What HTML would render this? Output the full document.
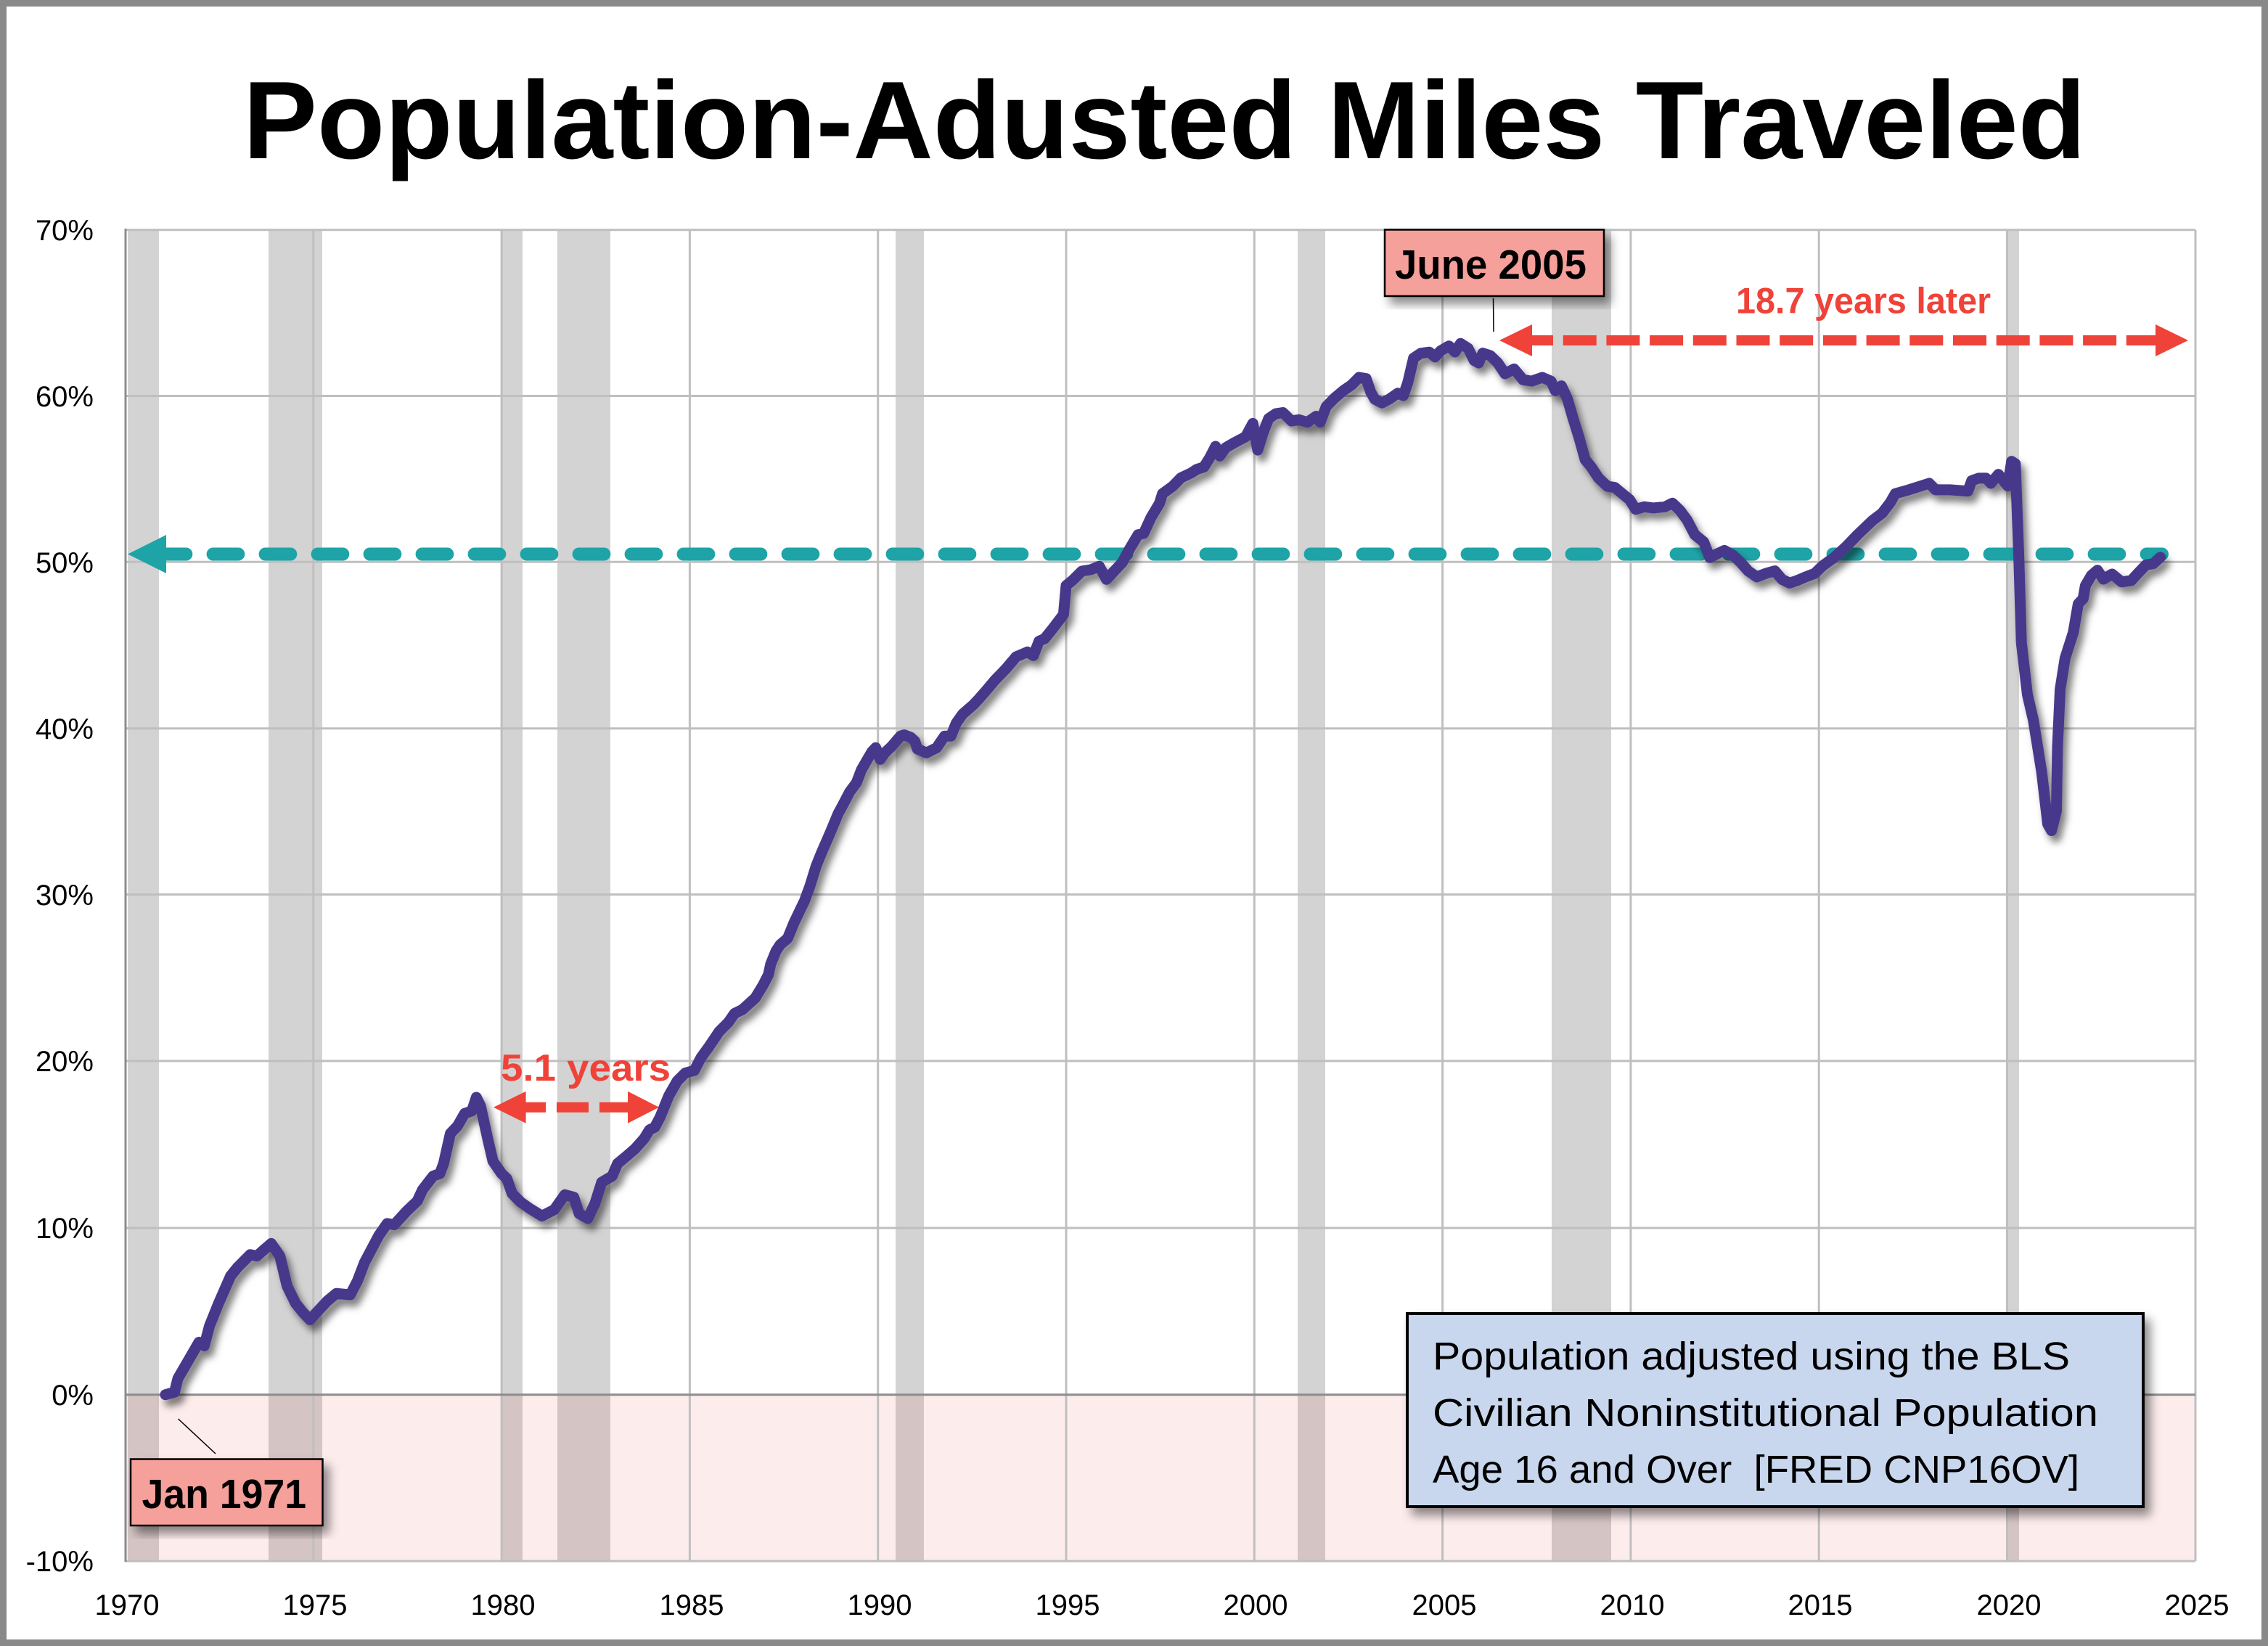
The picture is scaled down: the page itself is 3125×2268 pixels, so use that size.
<!DOCTYPE html>
<html>
<head>
<meta charset="utf-8">
<style>
html,body{margin:0;padding:0;background:#fff;}
svg{display:block;}
text{font-family:"Liberation Sans",Arial,sans-serif;}
</style>
</head>
<body>
<svg width="3125" height="2268" viewBox="0 0 3125 2268" xmlns="http://www.w3.org/2000/svg">
<defs>
<filter id="sh" x="-5%" y="-5%" width="110%" height="110%">
<feDropShadow dx="6" dy="9" stdDeviation="5" flood-color="#000" flood-opacity="0.5"/>
</filter>
<filter id="bsh" x="-10%" y="-10%" width="125%" height="130%">
<feDropShadow dx="8" dy="10" stdDeviation="7" flood-color="#000" flood-opacity="0.45"/>
</filter>
</defs>
<rect x="0" y="0" width="3125" height="2268" fill="#fff"/>

<!-- title -->
<text x="1604.5" y="218" text-anchor="middle" font-size="152" font-weight="bold" textLength="2539" lengthAdjust="spacingAndGlyphs" fill="#000">Population-Adusted Miles Traveled</text>

<!-- recession bands -->
<g fill="#d3d3d3">
<rect x="176" y="316.7" width="43" height="1834.3"/>
<rect x="370" y="316.7" width="74" height="1834.3"/>
<rect x="691" y="316.7" width="29" height="1834.3"/>
<rect x="768" y="316.7" width="73" height="1834.3"/>
<rect x="1234" y="316.7" width="39" height="1834.3"/>
<rect x="1788" y="316.7" width="38" height="1834.3"/>
<rect x="2138" y="316.7" width="82" height="1834.3"/>
<rect x="2766" y="316.7" width="16" height="1834.3"/>
</g>
<!-- pink zone -->
<rect x="172.5" y="1921.7" width="2852.5" height="229.3" fill="rgb(240,70,70)" fill-opacity="0.1"/>

<!-- gridlines -->
<g stroke="#bfbfbf" stroke-width="3">
<line x1="172.5" y1="316.7" x2="3025" y2="316.7"/>
<line x1="172.5" y1="545.5" x2="3025" y2="545.5"/>
<line x1="172.5" y1="774.3" x2="3025" y2="774.3"/>
<line x1="172.5" y1="1003.7" x2="3025" y2="1003.7"/>
<line x1="172.5" y1="1232.5" x2="3025" y2="1232.5"/>
<line x1="172.5" y1="1461.9" x2="3025" y2="1461.9"/>
<line x1="172.5" y1="1692" x2="3025" y2="1692"/>
<line x1="172.5" y1="2151" x2="3025" y2="2151"/>
<line x1="431.8" y1="316.7" x2="431.8" y2="2151"/>
<line x1="691.1" y1="316.7" x2="691.1" y2="2151"/>
<line x1="950.4" y1="316.7" x2="950.4" y2="2151"/>
<line x1="1209.7" y1="316.7" x2="1209.7" y2="2151"/>
<line x1="1469" y1="316.7" x2="1469" y2="2151"/>
<line x1="1728.3" y1="316.7" x2="1728.3" y2="2151"/>
<line x1="1987.6" y1="316.7" x2="1987.6" y2="2151"/>
<line x1="2246.9" y1="316.7" x2="2246.9" y2="2151"/>
<line x1="2506.2" y1="316.7" x2="2506.2" y2="2151"/>
<line x1="2765.5" y1="316.7" x2="2765.5" y2="2151"/>
<line x1="3025" y1="316.7" x2="3025" y2="2151"/>
</g>
<line x1="172.5" y1="1921.7" x2="3025" y2="1921.7" stroke="#8c8c8c" stroke-width="3"/>
<line x1="173" y1="315" x2="173" y2="2152" stroke="#8c8c8c" stroke-width="3"/>

<!-- y labels -->
<g font-size="40" text-anchor="end" fill="#000">
<text x="129" y="331">70%</text>
<text x="129" y="560">60%</text>
<text x="129" y="789">50%</text>
<text x="129" y="1018">40%</text>
<text x="129" y="1247">30%</text>
<text x="129" y="1476">20%</text>
<text x="129" y="1706">10%</text>
<text x="129" y="1936">0%</text>
<text x="129" y="2165">-10%</text>
</g>
<!-- x labels -->
<g font-size="40" text-anchor="middle" fill="#000">
<text x="175" y="2225">1970</text>
<text x="434" y="2225">1975</text>
<text x="693" y="2225">1980</text>
<text x="953" y="2225">1985</text>
<text x="1212" y="2225">1990</text>
<text x="1471" y="2225">1995</text>
<text x="1730" y="2225">2000</text>
<text x="1990" y="2225">2005</text>
<text x="2249" y="2225">2010</text>
<text x="2508" y="2225">2015</text>
<text x="2768" y="2225">2020</text>
<text x="3027" y="2225">2025</text>
</g>

<!-- teal dashed arrow -->
<line x1="221.6" y1="763.5" x2="2979" y2="763.5" stroke="#1ea4a7" stroke-width="18" stroke-linecap="round" stroke-dasharray="34.7 37.3"/>
<polygon points="176,763.5 229,737 229,790" fill="#1ea4a7"/>

<!-- series -->
<g filter="url(#sh)">
<g transform="translate(172.5,1921.7) scale(51.86,-22.94)">
<polyline fill="none" stroke="#46378c" stroke-width="15" stroke-linejoin="round" stroke-linecap="round" vector-effect="non-scaling-stroke" points="1.07,0 1.31,0.15 1.40,0.97 1.96,3.15 2.10,2.93 2.24,4.13 2.48,5.48 2.80,7.13 2.99,7.66 3.32,8.41 3.50,8.33 3.69,8.71 3.88,9.08 4.11,8.33 4.30,6.53 4.53,5.48 4.72,4.95 4.91,4.50 5.09,4.95 5.37,5.63 5.61,6.08 5.98,6.00 6.17,6.83 6.36,7.95 6.73,9.53 6.96,10.28 7.15,10.21 7.48,11.03 7.76,11.63 7.90,12.31 8.18,13.13 8.36,13.28 8.46,13.88 8.64,15.69 8.83,16.14 9.02,16.89 9.21,17.04 9.33,17.86 9.44,17.34 9.63,15.39 9.77,14.03 10.00,13.28 10.14,12.98 10.28,12.08 10.51,11.56 10.75,11.18 11.07,10.73 11.40,11.11 11.68,12.01 11.92,11.86 12.06,10.88 12.29,10.58 12.48,11.48 12.66,12.76 12.94,13.13 13.08,13.88 13.32,14.33 13.55,14.78 13.79,15.39 13.93,15.91 14.07,16.06 14.21,16.66 14.44,17.94 14.67,18.85 14.88,19.32 15.12,19.47 15.30,20.25 15.50,20.87 15.78,21.81 16.02,22.35 16.19,22.90 16.40,23.13 16.74,23.83 16.95,24.61 17.09,25.23 17.15,25.86 17.29,26.64 17.40,27.02 17.60,27.41 17.77,28.35 18.05,29.67 18.19,30.53 18.36,31.77 18.50,32.55 18.74,33.80 18.94,34.89 19.05,35.35 19.25,36.21 19.43,36.76 19.56,37.53 19.70,38.08 19.84,38.62 19.94,38.86 20.06,38.16 20.18,38.55 20.36,38.93 20.60,39.56 20.70,39.63 20.87,39.48 20.98,39.25 21.05,38.78 21.29,38.55 21.56,38.86 21.77,39.56 21.94,39.56 22.08,40.34 22.25,40.88 22.53,41.43 22.66,41.74 22.87,42.28 23.10,42.9 23.40,43.6 23.67,44.32 23.97,44.61 24.13,44.39 24.28,45.26 24.43,45.41 24.66,46.06 24.93,46.86 25.00,48.60 25.16,48.89 25.42,49.47 25.65,49.55 25.88,49.76 26.07,48.97 26.22,49.33 26.49,49.98 26.68,50.78 26.91,51.65 27.06,51.73 27.25,52.67 27.48,53.54 27.56,54.12 27.83,54.56 28.05,55.07 28.32,55.36 28.47,55.58 28.66,55.72 28.82,56.30 28.97,56.96 29.08,56.38 29.24,56.88 29.46,57.17 29.77,57.54 29.96,58.34 30.09,56.74 30.23,57.76 30.38,58.63 30.57,58.92 30.76,58.99 30.99,58.48 31.18,58.56 31.41,58.41 31.64,58.77 31.75,58.41 31.91,59.35 32.13,59.86 32.36,60.30 32.59,60.66 32.78,61.10 32.97,61.03 33.09,60.23 33.20,59.79 33.39,59.57 33.58,59.79 33.81,60.15 33.96,60.01 34.08,60.81 34.23,62.26 34.42,62.55 34.65,62.62 34.80,62.33 34.95,62.70 35.17,62.99 35.33,62.63 35.48,63.14 35.68,62.85 35.84,62.12 35.96,61.97 36.07,62.56 36.27,62.41 36.47,61.97 36.66,61.32 36.90,61.61 37.14,60.96 37.37,60.88 37.65,61.10 37.88,60.88 38.00,60.30 38.16,60.59 38.32,59.80 38.47,58.63 38.63,57.47 38.79,56.16 38.95,55.73 39.14,55.07 39.38,54.56 39.58,54.49 39.77,54.13 39.97,53.76 40.13,53.18 40.36,53.33 40.60,53.26 40.91,53.33 41.11,53.55 41.31,53.11 41.50,52.53 41.70,51.66 41.94,51.22 42.10,50.28 42.29,50.50 42.49,50.71 42.72,50.42 42.92,49.99 43.12,49.48 43.35,49.12 43.59,49.33 43.83,49.48 44.02,48.97 44.22,48.75 44.42,48.90 44.65,49.12 44.89,49.33 45.09,49.77 45.40,50.28 45.72,50.93 46.03,51.66 46.42,52.5 46.68,52.95 46.90,53.6 47.03,54.12 47.39,54.35 47.71,54.58 47.93,54.74 48.10,54.35 48.48,54.35 48.96,54.27 49.06,54.90 49.25,55.05 49.44,55.05 49.57,54.74 49.77,55.28 49.93,54.82 50.02,54.58 50.12,56.06 50.22,55.91 50.31,50.46 50.38,45.17 50.54,42.05 50.70,40.49 50.92,37.38 51.08,34.27 51.18,33.88 51.31,35.05 51.34,38.94 51.41,42.36 51.54,44.23 51.76,45.79 51.89,47.50 52.02,47.81 52.08,48.59 52.24,49.21 52.40,49.52 52.56,48.98 52.79,49.29 53.04,48.82 53.30,48.90 53.49,49.37 53.69,49.84 53.88,49.91 54.07,50.30"/>
</g>
</g>

<!-- red arrow 18.7 years -->
<line x1="2094" y1="469" x2="2970" y2="469" stroke="#ef4238" stroke-width="14" stroke-dasharray="46 13.7"/>
<polygon points="2066,469 2111,447 2111,491" fill="#ef4238"/>
<polygon points="3015,469 2970,447 2970,491" fill="#ef4238"/>
<text x="2392" y="431.7" font-size="50" font-weight="bold" fill="#ef4238" textLength="351" lengthAdjust="spacingAndGlyphs">18.7 years later</text>

<!-- red arrow 5.1 years -->
<line x1="708" y1="1525.7" x2="865" y2="1525.7" stroke="#ef4238" stroke-width="14" stroke-dasharray="44 15"/>
<polygon points="680,1525.7 724.6,1503.7 724.6,1547.7" fill="#ef4238"/>
<polygon points="908,1525.7 865,1503.7 865,1547.7" fill="#ef4238"/>
<text x="690" y="1489" font-size="52" font-weight="bold" fill="#ef4238" textLength="234" lengthAdjust="spacingAndGlyphs">5.1 years</text>

<!-- June 2005 label -->
<line x1="2057.5" y1="411" x2="2058" y2="457" stroke="#000" stroke-width="1.5"/>
<rect x="1908" y="316.5" width="302" height="91.5" fill="#f5a09b" stroke="#000" stroke-width="2.5" filter="url(#bsh)"/>
<text x="1922" y="384" font-size="57" font-weight="bold" fill="#000" textLength="264" lengthAdjust="spacingAndGlyphs">June 2005</text>

<!-- Jan 1971 label -->
<line x1="245.5" y1="1955" x2="297" y2="2003" stroke="#000" stroke-width="1.5"/>
<rect x="180" y="2010.5" width="264.5" height="91.5" fill="#f5a09b" stroke="#000" stroke-width="2.5" filter="url(#bsh)"/>
<text x="195.5" y="2078" font-size="57" font-weight="bold" fill="#000" textLength="226.5" lengthAdjust="spacingAndGlyphs">Jan 1971</text>

<!-- info box -->
<rect x="1939" y="1810" width="1014" height="266" fill="#c8d7ee" stroke="#000" stroke-width="4" filter="url(#bsh)"/>
<g font-size="54" fill="#000">
<text x="1974" y="1887" textLength="878" lengthAdjust="spacingAndGlyphs">Population adjusted using the BLS</text>
<text x="1974" y="1965" textLength="917" lengthAdjust="spacingAndGlyphs">Civilian Noninstitutional Population</text>
<text x="1974" y="2043" textLength="891" lengthAdjust="spacingAndGlyphs">Age 16 and Over &#160;[FRED CNP16OV]</text>
</g>

<!-- outer border -->
<rect x="4.5" y="4.5" width="3116" height="2259" fill="none" stroke="#898989" stroke-width="9"/>
</svg>
</body>
</html>
